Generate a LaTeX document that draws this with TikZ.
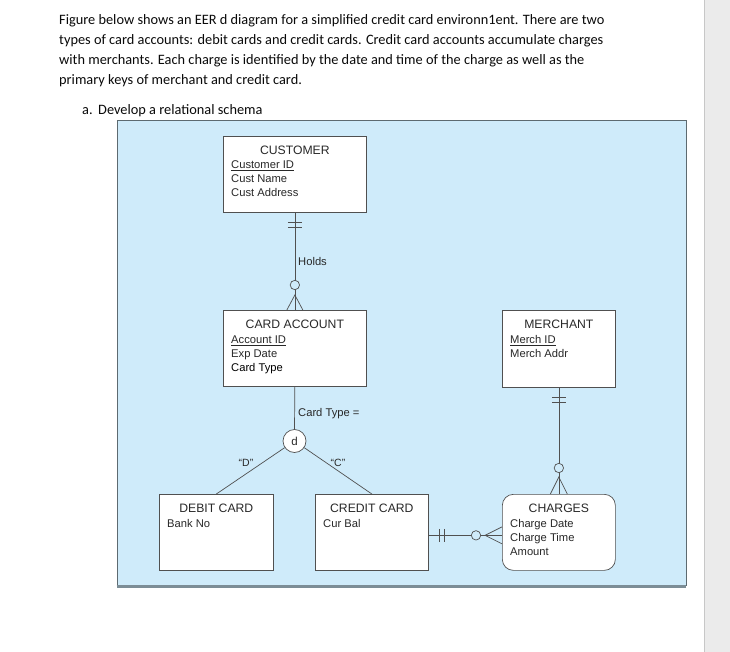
\documentclass[tikz,border=0pt]{standalone}
\usepackage{fontspec}
\setmainfont{Liberation Sans}
\newfontfamily\calib{Carlito}
\usetikzlibrary{calc}
\definecolor{panel}{RGB}{207,235,250}
\definecolor{ln}{RGB}{80,80,80}
\definecolor{tx}{RGB}{40,40,40}
\definecolor{para}{RGB}{10,10,10}
\begin{document}
\begin{tikzpicture}[x=1pt,y=-1pt,
  ent/.style={draw=ln, fill=white, line width=0.7pt, rectangle, inner sep=0pt, anchor=north west, minimum width=143pt, minimum height=76pt},
  ttl/.style={anchor=base, inner sep=0pt, text=tx, font=\fontsize{12.2}{14}\selectfont},
  att/.style={anchor=base west, inner sep=0pt, text=tx, font=\fontsize{11.2}{13}\selectfont},
  lab/.style={anchor=base west, inner sep=0pt, text=tx, font=\fontsize{11.2}{13}\selectfont},
  ptext/.style={anchor=base west, inner sep=0pt, text=para, font=\calib\fontsize{14.35}{17}\selectfont},
  conn/.style={draw=ln, line width=0.7pt},
  opt/.style={draw=ln, line width=0.7pt, fill=panel}
]
\useasboundingbox (0,0) rectangle (730,652);
\fill[white] (0,0) rectangle (730,652);
% right grey bar
\fill[black!8] (704,0) rectangle (730,652);
\draw[black!22, line width=1pt] (704.5,0) -- (704.5,652);

% paragraph
\node[ptext] (p1) at (59,25) {Figure below shows an EER d diagram for a simplified credit card environn1ent. There are two};
\node[ptext] (p2) at (59,45) {types of card accounts: debit cards and credit cards. Credit card accounts accumulate charges};
\node[ptext] (p3) at (59,65) {with merchants. Each charge is identified by the date and time of the charge as well as the};
\node[ptext] (p4) at (59,84.5) {primary keys of merchant and credit card.};
\node[ptext] (qa) at (82,114.5) {a.};
\node[ptext] (qt) at (98,114.5) {Develop a relational schema};

% panel
\fill[panel] (117,120) rectangle (686,586);
\draw[black!55!panel, line width=0.7pt] (117,586) -- (117,120) -- (686,120) -- (686,586);
\draw[black!40!panel, line width=2.4pt] (116.6,586.5) -- (686.4,586.5);

% entities
\node[ent] (cust) at (223,136) {};
\node[ent] (acct) at (223,310) {};
\node[ent, minimum width=113pt, minimum height=77pt] (merch) at (502,310) {};
\node[ent, minimum width=114pt] (debit) at (159,494) {};
\node[ent, minimum width=113pt] (credit) at (315,494) {};
\node[ent, minimum width=113pt, rounded corners=11pt] (charges) at (502,494) {};

% texts
\node[ttl] (custt) at ($(cust.north)+(0,18.5)$) {CUSTOMER};
\node[att] (c1) at ($(cust.north west)+(8,33)$) {\underline{Customer ID}};
\node[att] (c2) at ($(cust.north west)+(8,47)$) {Cust Name};
\node[att] (c3) at ($(cust.north west)+(8,61)$) {Cust Address};

\node[ttl] (acctt) at ($(acct.north)+(0,18.5)$) {CARD ACCOUNT};
\node[att] (a1) at ($(acct.north west)+(8,33.5)$) {\underline{Account ID}};
\node[att] (a2) at ($(acct.north west)+(8,47.5)$) {Exp Date};
\node[att, text=black] (a3) at ($(acct.north west)+(8,61.5)$) {Card Type};

\node[ttl] (merct) at ($(merch.north)+(0,18.5)$) {MERCHANT};
\node[att] (m1) at ($(merch.north west)+(8,33.5)$) {\underline{Merch ID}};
\node[att] (m2) at ($(merch.north west)+(8,47.5)$) {Merch Addr};

\node[ttl] (debt) at ($(debit.north)+(0,18.5)$) {DEBIT CARD};
\node[att] (d1) at ($(debit.north west)+(8,33.5)$) {Bank No};

\node[ttl] (cret) at ($(credit.north)+(0,18.5)$) {CREDIT CARD};
\node[att] (r1) at ($(credit.north west)+(8,33.5)$) {Cur Bal};

\node[ttl] (chat) at ($(charges.north)+(0,18.5)$) {CHARGES};
\node[att] (h1) at ($(charges.north west)+(8,33.5)$) {Charge Date};
\node[att] (h2) at ($(charges.north west)+(8,47.5)$) {Charge Time};
\node[att] (h3) at ($(charges.north west)+(8,61)$) {Amount};

% Holds relationship
\draw[conn] (cust.south) -- (acct.north);
\draw[conn] ($(cust.south)+(-7,9.5)$) -- ($(cust.south)+(7,9.5)$);
\draw[conn] ($(cust.south)+(-7,15)$) -- ($(cust.south)+(7,15)$);
\draw[conn] ($(acct.north)+(-8,0)$) -- ($(acct.north)+(0,-15)$) -- ($(acct.north)+(8,0)$);
\draw[opt] ($(acct.north)+(0,-25)$) circle (4.7);
\node[lab] (holds) at (298,265) {Holds};

% subtype
\node[circle, draw=ln, fill=white, line width=0.7pt, minimum size=23pt, inner sep=0pt, text=tx, font=\fontsize{11.5}{13}\selectfont] (dd) at (294.5,441) {d};
\draw[conn] (acct.south) -- (dd.north);
\draw[conn] (dd) -- (debit.north);
\draw[conn] (dd) -- (credit.north);
\node[lab] (ct) at (298,416) {Card Type =};
\node[anchor=base, inner sep=0pt, text=tx, font=\fontsize{10.5}{12}\selectfont] (ld) at (246,466) {“D”};
\node[anchor=base, inner sep=0pt, text=tx, font=\fontsize{10.5}{12}\selectfont] (lc) at (338,466) {“C”};

% merchant - charges
\draw[conn] (merch.south) -- (charges.north);
\draw[conn] ($(merch.south)+(-7,10)$) -- ($(merch.south)+(7,10)$);
\draw[conn] ($(merch.south)+(-7,15)$) -- ($(merch.south)+(7,15)$);
\draw[conn] ($(charges.north)+(-8.5,0)$) -- ($(charges.north)+(0,-17)$) -- ($(charges.north)+(8.5,0)$);
\draw[opt] ($(charges.north)+(0,-26)$) circle (4.7);

% credit card - charges
\draw[conn] ($(credit.east)+(0,3)$) -- ($(charges.west)+(0,3)$);
\draw[conn] ($(credit.east)+(11,-3.5)$) -- ($(credit.east)+(11,9.5)$);
\draw[conn] ($(credit.east)+(16,-3.5)$) -- ($(credit.east)+(16,9.5)$);
\draw[conn] ($(charges.west)+(0,-5.5)$) -- ($(charges.west)+(-17,3)$) -- ($(charges.west)+(0,11.5)$);
\draw[opt] ($(charges.west)+(-26,3)$) circle (4.7);
\end{tikzpicture}
\end{document}
